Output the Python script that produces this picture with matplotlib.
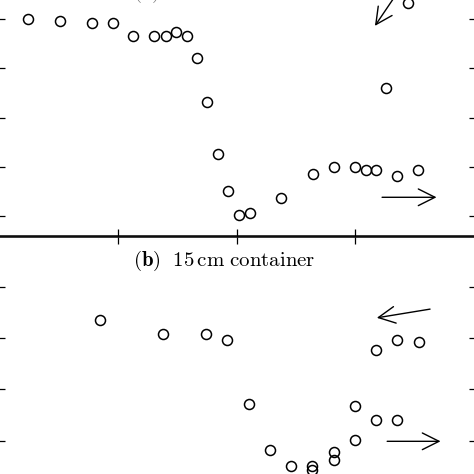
import matplotlib
matplotlib.use("Agg")
import matplotlib.pyplot as plt

plt.rcParams['mathtext.fontset'] = 'cm'
plt.rcParams['font.family'] = 'serif'
plt.rcParams['font.serif'] = ['DejaVu Serif']

# panel (a): top, partly cropped
xa = [0.240, 0.505, 0.775, 0.953, 1.127, 1.304, 1.400, 1.488, 1.578, 1.665,
      1.752, 1.842, 1.929, 2.020, 2.110, 2.375, 2.643, 2.820, 3.000, 3.090,
      3.177, 3.355, 3.532, 3.264, 3.445]
ya = [4.012, 3.965, 3.924, 3.930, 3.660, 3.660, 3.660, 3.741, 3.660, 3.213,
      2.324, 1.261, 0.502, 0.014, 0.061, 0.372, 0.860, 0.996, 0.996, 0.941,
      0.941, 0.813, 0.941, 2.597, 4.325]

# panel (b): 15 cm container
xb = [0.843, 1.380, 1.741, 1.921, 2.102, 2.282, 2.462, 2.639, 2.639, 2.820,
      2.820, 3.000, 3.000, 3.177, 3.357, 3.177, 3.357, 3.538]
yb = [2.346, 2.073, 2.073, 1.956, 0.709, -0.187, -0.499, -0.489, -0.575, -0.226,
      -0.382, 0.008, 0.670, 0.397, 0.397, 1.761, 1.962, 1.917]

xticks = [1, 2, 3]
W = 474.0
fig = plt.figure(figsize=(4.74, 4.74), dpi=100)

ax1 = fig.add_axes([-2 / W, 237.5 / W, 478 / W, 266.5 / W])
ax2 = fig.add_axes([-2 / W, -46 / W, 478 / W, 283.5 / W])

mk = dict(ls='none', marker='o', ms=7.2, mfc='none', mec='black', mew=1.1)
ax1.plot(xa, ya, **mk)
ax2.plot(xb, yb, **mk)

xlim = (-0.0165, 4.022)
ax1.set_xlim(*xlim)
ax2.set_xlim(*xlim)
ax1.set_ylim(-0.417, 5.0)
ax2.set_ylim(-1.545, 3.978)
ax1.set_yticks([0, 1, 2, 3, 4])
ax2.set_yticks([0, 1, 2, 3])

for ax in (ax1, ax2):
    ax.set_xticks(xticks)
    ax.tick_params(direction='in', length=5, width=0.9, top=True, right=True,
                   labelbottom=False, labelleft=False)
    for s in ax.spines.values():
        s.set_linewidth(1.1)

ap = dict(arrowstyle='->', lw=1.0, color='black', mutation_scale=30)
ax1.annotate('', xy=(3.155, 3.817), xytext=(3.397, 4.677), arrowprops=ap)
ax1.annotate('', xy=(3.712, 0.380), xytext=(3.205, 0.380), arrowprops=ap)
ax2.annotate('', xy=(3.161, 2.385), xytext=(3.657, 2.572), arrowprops=ap)
ax2.annotate('', xy=(3.746, -0.012), xytext=(3.248, -0.012), arrowprops=ap)

ax2.text(1.125, 3.50, r'$\mathbf{(b)}\ \ 15\,\mathrm{cm\ container}$',
         fontsize=15, ha='left', va='center')
ax1.text(1.125, 4.534, r'$\mathbf{(a)}$', fontsize=15, ha='left', va='center',
         color='0.5')

fig.savefig('out.png', dpi=100)
